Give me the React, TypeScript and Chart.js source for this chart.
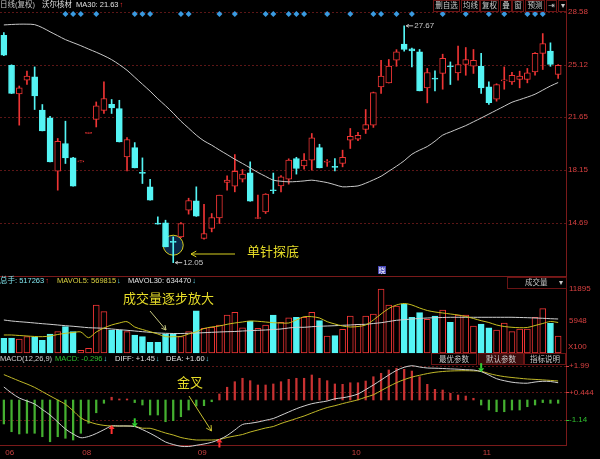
import React, { useEffect, useRef } from 'react';
import { Chart, registerables } from 'chart.js';

Chart.register(...registerables);

// ---------- data ----------
const sessions = [
  '1','2','3','4','5','6','7','8','9','10','11','12','13','14','15','16','17','18','19','20',
  '21','22','23','24','25','26','27','28','29','30','31','32','33','34','35','36','37','38','39','40',
  '41','42','43','44','45','46','47','48','49','50','51','52','53','54','55','56','57','58','59','60',
  '61','62','63','64','65','66','67','68','69','70','71','72','73'
];

const openP = [
  27.05, 25.07, 23.18, 24.08, 24.30, 22.11, 21.60, 18.08, 19.91, 18.96,
  18.70, 20.58, 21.49, 22.09, 22.50, 22.22, 19.03, 19.64, 18.01, 17.05,
  14.66, 14.67, 13.46, 13.75, 15.51, 16.13, 13.64, 14.30, 15.00, 17.34,
  17.09, 17.56, 17.97, 14.96, 15.40, 16.86, 17.11, 17.56, 18.92, 18.43,
  18.81, 19.64, 18.67, 18.40, 18.59, 20.13, 20.19, 20.83, 21.12, 23.64,
  23.91, 25.40, 26.46, 26.15, 25.95, 23.58, 24.23, 24.53, 25.04, 24.57,
  25.12, 25.01, 25.01, 23.64, 22.83, 24.04, 23.97, 24.13, 24.13, 24.63,
  25.85, 26.00, 24.46
];
const highP = [
  27.23, 25.10, 23.70, 24.68, 24.96, 22.48, 21.70, 20.24, 21.38, 19.00,
  18.77, 20.65, 22.65, 23.97, 22.81, 22.76, 20.30, 19.97, 18.96, 17.55,
  15.07, 14.85, 13.75, 14.70, 16.30, 17.05, 15.90, 15.29, 16.50, 17.77,
  19.18, 18.20, 18.70, 16.50, 16.60, 17.96, 17.80, 18.90, 19.00, 19.25,
  20.57, 19.86, 18.85, 18.92, 19.47, 20.90, 20.65, 22.15, 23.30, 25.40,
  25.45, 26.10, 27.67, 26.20, 26.11, 24.86, 24.70, 25.80, 25.29, 26.33,
  26.24, 26.11, 25.85, 23.97, 23.85, 24.96, 24.60, 24.68, 24.86, 25.90,
  27.16, 26.55, 25.12
];
const lowP = [
  25.70, 23.20, 21.12, 23.80, 22.15, 20.74, 18.70, 16.83, 18.59, 17.09,
  18.70, 20.58, 21.00, 21.89, 21.89, 20.01, 18.10, 18.30, 17.27, 16.17,
  14.59, 13.09, 12.05, 13.70, 15.25, 15.10, 13.60, 14.08, 14.63, 16.83,
  16.72, 17.37, 16.10, 14.95, 15.29, 16.61, 16.72, 17.23, 17.89, 18.21,
  18.15, 18.30, 18.40, 18.10, 18.37, 19.58, 20.10, 20.57, 20.97, 23.21,
  23.90, 25.00, 26.00, 24.96, 23.38, 22.59, 23.38, 23.49, 23.80, 24.08,
  24.41, 24.53, 23.21, 22.48, 22.70, 23.49, 23.80, 23.58, 23.91, 24.41,
  24.79, 25.00, 24.20
];
const closeP = [
  25.73, 23.21, 23.58, 24.35, 23.05, 20.74, 18.70, 20.06, 18.96, 17.09,
  18.77, 20.65, 22.39, 22.88, 22.26, 20.01, 20.17, 18.30, 17.94, 16.17,
  14.59, 13.09, 13.39, 14.63, 16.15, 15.12, 13.97, 15.03, 16.50, 17.49,
  18.08, 17.89, 16.10, 15.03, 16.57, 16.79, 17.71, 18.81, 18.26, 18.81,
  20.28, 18.30, 18.74, 18.33, 18.99, 20.39, 20.44, 21.16, 23.27, 24.35,
  25.01, 25.95, 26.11, 26.02, 23.38, 24.59, 24.16, 25.52, 24.97, 25.12,
  25.45, 25.40, 23.58, 22.61, 23.80, 24.11, 24.41, 24.35, 24.57, 25.85,
  26.50, 25.12, 25.07
];
const ma30 = [
  27.73, 27.76, 27.78, 27.78, 27.75, 27.55, 27.28, 27.02, 26.76, 26.56,
  26.36, 26.14, 25.93, 25.70, 25.44, 25.11, 24.74, 24.28, 23.82, 23.36,
  22.86, 22.40, 21.91, 21.38, 20.92, 20.46, 20.08, 19.80, 19.48, 19.18,
  18.87, 18.59, 18.30, 18.00, 17.74, 17.49, 17.42, 17.38, 17.40, 17.44,
  17.49, 17.42, 17.33, 17.19, 17.05, 17.07, 17.11, 17.29, 17.51, 17.75,
  18.08, 18.41, 18.77, 19.20, 19.47, 19.71, 20.06, 20.46, 20.67, 20.88,
  21.09, 21.34, 21.59, 21.85, 22.11, 22.37, 22.63, 22.80, 22.97, 23.16,
  23.43, 23.70, 23.93
];
const volume = [
  2733, 2790, 2600, 3030, 2975, 2360, 3530, 3960, 4890, 3960,
  500, 870, 8920, 7680, 4280, 4280, 3960, 3350, 3030, 1990,
  1990, 3530, 3530, 3030, 3960, 7860, 4590, 4780, 5200, 7060,
  7560, 4700, 5950, 4590, 5200, 7060, 5700, 6560, 6630, 6630,
  7560, 6010, 3160, 3220, 4400, 6880, 5330, 6880, 7250, 11895,
  8920, 8740, 9050, 6630, 7500, 6260, 6880, 7990, 5700, 7060,
  7060, 5020, 5390, 4700, 4280, 5580, 3960, 4460, 4460, 6630,
  8240, 5520, 3160
];
const mavol5 = [
  3346, 3346, 3253, 3160, 3067, 3030, 3160, 3440, 3662, 3811,
  3904, 2844, 3904, 4648, 5205, 5577, 5819, 4833, 4369, 3960,
  3532, 3030, 3030, 3067, 3532, 3960, 4555, 4833, 5019, 5335,
  5577, 5763, 5949, 5893, 5763, 5633, 5577, 5577, 6135, 6748,
  6748, 6506, 5819, 5391, 5019, 4833, 4926, 5205, 6135, 7250,
  8273, 8923, 9202, 8923, 8366, 7901, 7622, 7436, 7250, 7064,
  6785, 6414, 6005, 5670, 5205, 4926, 4778, 4703, 4740, 5112,
  5484, 5856, 5670
];
const mavol30 = [
  6135, 5949, 5819, 5707, 5577, 5447, 5335, 5205, 5075, 4964,
  4833, 4703, 4648, 4592, 4462, 4331, 4220, 4090, 3960, 3848,
  3718, 3662, 3625, 3625, 3662, 3718, 3774, 3848, 3904, 3960,
  3997, 4090, 4146, 4220, 4276, 4369, 4462, 4648, 4778, 4778,
  4889, 4964, 5019, 5075, 5149, 5205, 5298, 5335, 5484, 5633,
  5856, 6079, 6190, 6321, 6414, 6506, 6562, 6600, 6637, 6637,
  6637, 6637, 6637, 6637, 6637, 6637, 6637, 6600, 6562, 6506,
  6451, 6376, 6321
];
const macdHist = [
  -1.39, -1.84, -1.97, -1.93, -1.93, -2.13, -2.42, -2.13, -2.22, -2.32,
  -1.93, -1.35, -0.74, -0.19, 0.16, 0.06, 0.06, -0.15, -0.29, -0.87,
  -0.87, -1.26, -1.20, -0.97, -0.58, -0.35, -0.33, -0.10, 0.35, 0.74,
  1.06, 1.26, 1.12, 0.87, 0.87, 0.93, 1.06, 1.20, 1.26, 1.26,
  1.45, 1.26, 1.12, 0.93, 0.91, 1.00, 1.00, 1.10, 1.35, 1.55,
  1.74, 1.84, 1.78, 1.68, 1.35, 0.91, 0.62, 0.58, 0.39, 0.29,
  0.23, 0.10, -0.29, -0.58, -0.68, -0.68, -0.58, -0.58, -0.39, -0.29,
  -0.15, -0.19, -0.19
];
const diffLine = [
  0.754, 0.406, 0.116, -0.058, -0.232, -0.551, -0.870, -1.276, -1.682, -1.972,
  -2.187, -2.117, -1.943, -1.723, -1.508, -1.508, -1.508, -1.537, -1.717, -1.931,
  -2.175, -2.436, -2.581, -2.685, -2.697, -2.627, -2.552, -2.453, -2.291, -2.059,
  -1.740, -1.421, -1.351, -1.276, -1.177, -1.073, -0.887, -0.696, -0.505, -0.348,
  -0.215, -0.133, -0.058, 0.070, 0.128, 0.215, 0.348, 0.603, 0.870, 1.160,
  1.450, 1.717, 1.897, 1.989, 1.914, 1.856, 1.844, 1.827, 1.804, 1.786,
  1.757, 1.740, 1.647, 1.450, 1.235, 1.119, 1.032, 0.986, 0.974, 1.044,
  1.085, 1.073, 1.003
];
const deaLine = [
  1.473, 1.288, 1.102, 0.928, 0.731, 0.487, 0.238, 0.000, -0.249, -0.621,
  -1.038, -1.253, -1.392, -1.473, -1.508, -1.508, -1.508, -1.525, -1.636, -1.641,
  -1.769, -1.914, -2.030, -2.175, -2.262, -2.320, -2.320, -2.320, -2.291, -2.175,
  -2.088, -2.001, -1.856, -1.740, -1.624, -1.537, -1.363, -1.218, -1.073, -0.928,
  -0.754, -0.586, -0.435, -0.331, -0.209, -0.099, 0.012, 0.162, 0.302, 0.545,
  0.783, 1.003, 1.183, 1.328, 1.433, 1.531, 1.607, 1.653, 1.682, 1.694,
  1.699, 1.688, 1.670, 1.537, 1.433, 1.357, 1.305, 1.259, 1.218, 1.195,
  1.166, 1.137, 1.102
];
const signalIdx = [8, 9, 10, 12, 17, 18, 19, 23, 24, 28, 30, 34, 35, 37, 38, 39, 42, 45, 48, 49, 51, 53, 57, 60, 63, 65, 68, 69, 70];
const signalLevel = 28.45;
const goldenIdx = [14, 28];
const deathIdx = [17, 62];
const priceTicks = [28.58, 25.12, 21.65, 18.15, 14.69];
const volumeTicks = [11895, 5948];
const macdTicks = [1.99, 0.444, -1.14];
const macdTickLabels = ['+1.99', '+0.444', '-1.14'];
const monthLabels = ['06', '08', '09', '10', '11'];
const monthStarts = [0, 10, 25, 45, 62];
const highIdx = 52;
const lowIdx = 22;

// ---------- styles ----------
const RED = '#ee3434';
const CYAN = '#54f4f4';
const AXIS_RED = '#d84040';
const GRID_RED = '#5c1616';
const FRAME_RED = '#7a1a1a';
const YEL = '#e6dc28';
const FONT = '8px "Liberation Sans", "Noto Sans CJK SC", sans-serif';
const HFONT = '7.5px "Liberation Sans", "Noto Sans CJK SC", sans-serif';
const CJK13 = '13px "Noto Sans CJK SC", sans-serif';
const isUp = (i: number) => closeP[i] >= openP[i];

function arrowHead(ctx: CanvasRenderingContext2D, x1: number, y1: number, x2: number, y2: number, len: number) {
  const a = Math.atan2(y2 - y1, x2 - x1);
  ctx.beginPath();
  ctx.moveTo(x2 - len * Math.cos(a - 0.5), y2 - len * Math.sin(a - 0.5));
  ctx.lineTo(x2, y2);
  ctx.lineTo(x2 - len * Math.cos(a + 0.5), y2 - len * Math.sin(a + 0.5));
  ctx.stroke();
}
function arrow(ctx: CanvasRenderingContext2D, x1: number, y1: number, x2: number, y2: number, len: number) {
  ctx.beginPath();
  ctx.moveTo(x1, y1);
  ctx.lineTo(x2, y2);
  ctx.stroke();
  arrowHead(ctx, x1, y1, x2, y2, len);
}

const decor = {
  id: 'decor',
  beforeDraw(chart: any) {
    const { ctx, width, height } = chart;
    ctx.save();
    ctx.fillStyle = '#000';
    ctx.fillRect(0, 0, width, height);
    ctx.restore();
  },
  beforeDatasetsDraw(chart: any) {
    const ctx: CanvasRenderingContext2D = chart.ctx;
    const { x, yP, yM } = chart.scales;
    ctx.save();
    ctx.lineWidth = 1;
    ctx.strokeStyle = GRID_RED;
    ctx.setLineDash([2, 2]);
    const hline = (y: number) => {
      const yy = Math.round(y) + 0.5;
      ctx.beginPath();
      ctx.moveTo(0, yy);
      ctx.lineTo(566, yy);
      ctx.stroke();
    };
    priceTicks.forEach((v) => hline(yP.getPixelForValue(v)));
    macdTicks.forEach((v) => hline(yM.getPixelForValue(v)));
    ctx.setLineDash([]);
    // frame
    ctx.strokeStyle = FRAME_RED;
    ctx.beginPath();
    ctx.moveTo(566.5, 11);
    ctx.lineTo(566.5, 446);
    ctx.moveTo(0, 276.5);
    ctx.lineTo(566, 276.5);
    ctx.moveTo(0, 445.5);
    ctx.lineTo(566, 445.5);
    ctx.stroke();
    // circle around the needle candle
    const cx = x.getPixelForValue(lowIdx);
    const cy = yP.getPixelForValue(13.2);
    ctx.beginPath();
    ctx.arc(cx, cy, 10, 0, Math.PI * 2);
    ctx.fillStyle = '#0b2646';
    ctx.fill();
    ctx.strokeStyle = '#d8cc20';
    ctx.lineWidth = 1;
    ctx.stroke();
    ctx.restore();
  },
  afterDatasetsDraw(chart: any) {
    const ctx: CanvasRenderingContext2D = chart.ctx;
    const { x, yP, yV, yM } = chart.scales;
    ctx.save();
    ctx.textBaseline = 'middle';
    const txt = (s: string, tx: number, ty: number, color: string, font = FONT, align: CanvasTextAlign = 'left') => {
      ctx.font = font;
      ctx.fillStyle = color;
      ctx.textAlign = align;
      ctx.fillText(s, tx, ty);
      return tx + ctx.measureText(s).width;
    };
    const ARW = '#60d8f0';

    // top header
    txt('日线(复权)', 0, 5, '#c0c0c0', HFONT);
    txt('沃尔核材', 42, 5, '#e0e0e0', HFONT);
    let e = txt('MA30: 21.63', 76, 5, '#e0e0e0', HFONT);
    txt('↑', e + 1, 5, '#ff3030', HFONT);

    // toolbar
    const buttons: [string, number, number][] = [
      ['删自选', 433, 460], ['均线', 461, 480], ['复权', 480, 499], ['叠', 500, 512],
      ['窗', 512, 524], ['预测', 525, 545], ['⇥', 546, 557], ['▾', 558, 567]
    ];
    ctx.strokeStyle = '#6a1414';
    ctx.lineWidth = 1;
    buttons.forEach(([s, a, b]) => {
      ctx.strokeRect(a + 0.5, 0.5, b - a - 1, 11);
      txt(s, (a + b) / 2, 6, '#c8c8c8', HFONT, 'center');
    });

    // price axis labels
    priceTicks.forEach((v) => txt(v.toFixed(2), 568, yP.getPixelForValue(v), AXIS_RED));

    // high / low markers
    ctx.strokeStyle = '#c0c0c0';
    ctx.lineWidth = 1;
    const hx = x.getPixelForValue(highIdx);
    const hy = yP.getPixelForValue(highP[highIdx]);
    arrow(ctx, hx + 9, hy, hx + 2, hy, 3);
    txt(highP[highIdx].toFixed(2), hx + 10, hy, '#c8c8c8');
    const lx = x.getPixelForValue(lowIdx);
    const ly = yP.getPixelForValue(lowP[lowIdx]);
    arrow(ctx, lx + 9, ly, lx + 2, ly, 3);
    txt(lowP[lowIdx].toFixed(2), lx + 10, ly, '#c8c8c8');

    // annotations
    ctx.strokeStyle = '#d8d020';
    ctx.lineWidth = 1;
    arrow(ctx, 235, 254, 191, 254, 6);
    txt('单针探底', 247, 251, YEL, CJK13);

    ctx.strokeStyle = '#c8c880';
    arrow(ctx, 150, 311, 166, 330, 5);
    txt('成交量逐步放大', 123, 298, YEL, CJK13);

    ctx.strokeStyle = '#c8c030';
    arrow(ctx, 189, 396, 211.5, 431, 6);
    txt('金叉', 177, 382, YEL, CJK13);

    // volume header
    e = txt('总手: 517263', 0, 281, '#80e4ec', HFONT);
    txt('↑', e + 1, 281, '#ff3030', HFONT);
    e = txt('MAVOL5: 569815', 57, 281, '#d8d040', HFONT);
    txt('↓', e + 1, 281, ARW, HFONT);
    e = txt('MAVOL30: 634470', 128, 281, '#e0e0e0', HFONT);
    txt('↓', e + 1, 281, ARW, HFONT);

    // small icon
    ctx.fillStyle = '#4848b8';
    ctx.fillRect(378, 266, 8, 8);
    txt('晓', 382, 270.5, '#ffffff', '7px "Noto Sans CJK SC", sans-serif', 'center');

    // volume selector box
    ctx.strokeStyle = '#6a1414';
    ctx.strokeRect(507.5, 277.5, 59, 11);
    txt('成交量', 525, 283, '#c8c8c8', HFONT);
    txt('▾', 559, 283, '#c8c8c8', HFONT);

    // volume axis
    volumeTicks.forEach((v) => txt(String(v), 569, yV.getPixelForValue(v), AXIS_RED));
    txt('X100', 568, yV.getPixelForValue(0) - 6, AXIS_RED);

    // MACD header
    txt('MACD(12,26,9)', 0, 359, '#d0d0d0', HFONT);
    e = txt('MACD: -0.296', 55, 359, '#30c030', HFONT);
    txt('↓', e + 1, 359, ARW, HFONT);
    e = txt('DIFF: +1.45', 115, 359, '#e0e0e0', HFONT);
    txt('↓', e + 1, 359, ARW, HFONT);
    e = txt('DEA: +1.60', 166, 359, '#e0e0e0', HFONT);
    txt('↓', e + 1, 359, ARW, HFONT);

    // MACD buttons
    const mb: [string, number, number, boolean][] = [
      ['最优参数', 431, 477, false], ['默认参数', 478, 524, true], ['指标说明', 524, 566, false]
    ];
    mb.forEach(([s, a, b, on]) => {
      if (on) {
        ctx.fillStyle = '#3a0c0c';
        ctx.fillRect(a, 353, b - a, 12);
      }
      ctx.strokeStyle = '#6a1414';
      ctx.strokeRect(a + 0.5, 353.5, b - a - 1, 11);
      txt(s, (a + b) / 2, 359.5, '#c8c8c8', HFONT, 'center');
    });

    // MACD axis
    macdTicks.forEach((v, k) => {
      const yy = yM.getPixelForValue(v);
      const col = v < 0 ? '#30c030' : AXIS_RED;
      ctx.strokeStyle = col;
      ctx.beginPath();
      ctx.moveTo(566, Math.round(yy) + 0.5);
      ctx.lineTo(569, Math.round(yy) + 0.5);
      ctx.stroke();
      txt(macdTickLabels[k], 569, yy, col);
    });

    // cross arrows
    const upArrow = (i: number) => {
      const ax = x.getPixelForValue(i);
      const ay = yM.getPixelForValue(deaLine[i]) - 1;
      ctx.fillStyle = '#ff3030';
      ctx.beginPath();
      ctx.moveTo(ax, ay);
      ctx.lineTo(ax - 3, ay + 4);
      ctx.lineTo(ax + 3, ay + 4);
      ctx.closePath();
      ctx.fill();
      ctx.fillRect(ax - 1, ay + 4, 2, 5);
    };
    const downArrow = (i: number) => {
      const ax = x.getPixelForValue(i);
      const ay = yM.getPixelForValue(deaLine[i]) + 1;
      ctx.fillStyle = '#30d030';
      ctx.beginPath();
      ctx.moveTo(ax, ay);
      ctx.lineTo(ax - 3, ay - 4);
      ctx.lineTo(ax + 3, ay - 4);
      ctx.closePath();
      ctx.fill();
      ctx.fillRect(ax - 1, ay - 9, 2, 5);
    };
    goldenIdx.forEach(upArrow);
    deathIdx.forEach(downArrow);

    // month labels
    monthLabels.forEach((m, k) => {
      const mx = Math.max(2, x.getPixelForValue(monthStarts[k]) + 1.5);
      txt(m, mx, 452.5, '#c84040');
    });
    ctx.restore();
  }
};

export default function App() {
  const ref = useRef<HTMLCanvasElement>(null);
  useEffect(() => {
    const canvas = ref.current;
    if (!canvas) return;
    const bodies = sessions.map((_, i) => [openP[i], closeP[i]]);
    const wicks = sessions.map((_, i) => [lowP[i], highP[i]]);
    const signals = sessions.map((_, i) => (signalIdx.includes(i) ? signalLevel : null));
    const upColor = (c: any, up: string, down: string) => (isUp(c.dataIndex) ? up : down);

    const chart = new Chart(canvas, {
      type: 'bar',
      data: {
        labels: sessions,
        datasets: [
          {
            type: 'bar', label: 'wick', data: wicks as any, yAxisID: 'yP', grouped: false,
            barThickness: 1, borderWidth: 0, order: 3,
            backgroundColor: (c: any) => upColor(c, RED, CYAN)
          },
          {
            type: 'bar', label: 'K', data: bodies as any, yAxisID: 'yP', grouped: false,
            barThickness: 6, borderWidth: 1, borderSkipped: false, order: 2,
            backgroundColor: (c: any) => upColor(c, '#000000', CYAN),
            borderColor: (c: any) => upColor(c, RED, CYAN)
          },
          {
            type: 'line', label: 'MA30', data: ma30, yAxisID: 'yP', borderColor: '#c8c8c8',
            borderWidth: 1, pointRadius: 0, tension: 0.3, order: 1
          },
          {
            type: 'line', label: 'signal', data: signals as any, yAxisID: 'yP', showLine: false,
            pointStyle: 'rectRot', pointRadius: 3, pointBackgroundColor: '#3a9ae0',
            pointBorderWidth: 0, order: 0
          },
          {
            type: 'bar', label: 'VOL', data: volume, yAxisID: 'yV', grouped: false,
            barThickness: 6, borderWidth: 1, borderSkipped: false, order: 2,
            backgroundColor: (c: any) => upColor(c, '#000000', CYAN),
            borderColor: (c: any) => upColor(c, RED, CYAN)
          },
          {
            type: 'line', label: 'MAVOL5', data: mavol5, yAxisID: 'yV', borderColor: '#c8c020',
            borderWidth: 1, pointRadius: 0, tension: 0.3, order: 1
          },
          {
            type: 'line', label: 'MAVOL30', data: mavol30, yAxisID: 'yV', borderColor: '#d0d0d0',
            borderWidth: 1, pointRadius: 0, tension: 0.3, order: 1
          },
          {
            type: 'bar', label: 'MACD', data: macdHist, yAxisID: 'yM', grouped: false,
            barThickness: 1.6, borderWidth: 0, order: 2,
            backgroundColor: (c: any) => (macdHist[c.dataIndex] >= 0 ? '#c83232' : '#44b030')
          },
          {
            type: 'line', label: 'DIFF', data: diffLine, yAxisID: 'yM', borderColor: '#d0d0d0',
            borderWidth: 1, pointRadius: 0, tension: 0.3, order: 1
          },
          {
            type: 'line', label: 'DEA', data: deaLine, yAxisID: 'yM', borderColor: '#c0b828',
            borderWidth: 1, pointRadius: 0, tension: 0.3, order: 1
          }
        ]
      } as any,
      options: {
        responsive: false,
        devicePixelRatio: 1,
        animation: false,
        events: [],
        layout: { autoPadding: false, padding: { left: 0, right: 38, top: 0, bottom: 0 } },
        plugins: { legend: { display: false }, tooltip: { enabled: false } },
        scales: {
          x: { type: 'category', display: false, offset: true, grid: { display: false } },
          yP: { type: 'linear', display: false, min: -0.902, max: 29.3746 },
          yV: { type: 'linear', display: false, min: -19701, max: 65609 },
          yM: { type: 'linear', display: false, min: -3.422, max: 23.2 }
        }
      } as any,
      plugins: [decor]
    });
    return () => chart.destroy();
  }, []);

  return (
    <div style={{ position: 'fixed', left: 0, top: 0, width: 600, height: 459, background: '#000' }}>
      <canvas ref={ref} width={600} height={459} style={{ display: 'block', width: 600, height: 459 }} />
    </div>
  );
}
